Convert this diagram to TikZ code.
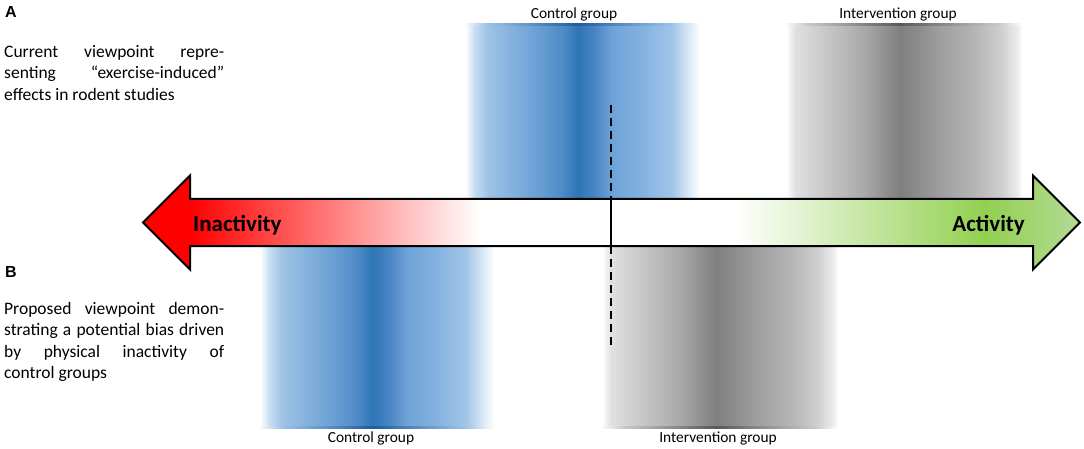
\documentclass[tikz,border=0pt]{standalone}
\usepackage{fontspec}
\setmainfont{Carlito}
\newfontfamily\arialfont{Liberation Sans}
\definecolor{bA}{HTML}{C5DCF0}
\definecolor{bB}{HTML}{9DC3E6}
\definecolor{bC}{HTML}{6A9FD4}
\definecolor{bC2}{HTML}{4F8BC8}
\definecolor{bD}{HTML}{2E75B6}
\definecolor{bE}{HTML}{4A85C4}
\definecolor{bF}{HTML}{6FA3D8}
\definecolor{bG}{HTML}{80B0DE}
\definecolor{bH}{HTML}{A0C5E8}
\definecolor{bEdge}{HTML}{1F5C99}
\definecolor{gA}{HTML}{E0E0E0}
\definecolor{gB}{HTML}{C8C8C8}
\definecolor{gC}{HTML}{A8A8A8}
\definecolor{gC2}{HTML}{8C8C8C}
\definecolor{gD}{HTML}{7F7F7F}
\definecolor{gE}{HTML}{8A8A8A}
\definecolor{gF}{HTML}{A0A0A0}
\definecolor{gG}{HTML}{B5B5B5}
\definecolor{gH}{HTML}{D0D0D0}
\definecolor{gI}{HTML}{EEEEEE}
\definecolor{gEdge}{HTML}{595959}
\definecolor{rA}{HTML}{FF0000}
\definecolor{grA}{HTML}{92D050}
\definecolor{grB}{HTML}{B3DA95}
\pgfdeclarehorizontalshading{blueband}{100bp}{color(0bp)=(white); color(25bp)=(white); color(25.5bp)=(white); color(27.5bp)=(bA); color(30.25bp)=(bB); color(40.8bp)=(bC); color(45.9bp)=(bC2); color(49.25bp)=(bD); color(52.85bp)=(bE); color(56.5bp)=(bF); color(62bp)=(bG); color(69bp)=(bH); color(75bp)=(white); color(100bp)=(white)}
\pgfdeclarehorizontalshading{grayband}{100bp}{color(0bp)=(white); color(25bp)=(white); color(25.5bp)=(white); color(27.3bp)=(gA); color(33.6bp)=(gB); color(42bp)=(gC); color(46.9bp)=(gC2); color(49.4bp)=(gD); color(52.5bp)=(gE); color(58.2bp)=(gF); color(65bp)=(gG); color(70.8bp)=(gH); color(74.2bp)=(gI); color(75bp)=(white); color(100bp)=(white)}
\pgfdeclarehorizontalshading{blueedge}{100bp}{color(0bp)=(white); color(25bp)=(white); color(30bp)=(bB); color(49.25bp)=(bEdge); color(69bp)=(bB); color(75bp)=(white); color(100bp)=(white)}
\pgfdeclarehorizontalshading{grayedge}{100bp}{color(0bp)=(white); color(25bp)=(white); color(30bp)=(gB); color(49.4bp)=(gEdge); color(70bp)=(gB); color(75bp)=(white); color(100bp)=(white)}
\pgfdeclarehorizontalshading{arrowshade}{100bp}{color(0bp)=(rA); color(25bp)=(rA); color(27.5bp)=(rA); color(43bp)=(white); color(56.6bp)=(white); color(69.9bp)=(grA); color(75bp)=(grB); color(100bp)=(grB)}
\tikzset{
  grouplabel/.style={font=\fontsize{15.4}{18}\selectfont, anchor=base, inner sep=0pt},
  para/.style={font=\fontsize{17.5}{21.5}\selectfont, text width=220pt, align=justify, inner sep=0pt, anchor=north west},
  panel/.style={font=\arialfont\fontsize{16}{18}\bfseries, anchor=base west, inner sep=0pt},
  arrowlabel/.style={font=\fontsize{23}{26}\bfseries, inner sep=0pt},
  dashedline/.style={line width=2pt, dash pattern=on 8pt off 5pt},
  shaftline/.style={line width=2pt},
  arrowoutline/.style={draw=black, line width=2pt, line join=miter, shading=arrowshade},
}
\begin{document}
\begin{tikzpicture}[x=1pt,y=-1pt]
\useasboundingbox (0,0) rectangle (1084,449);
% bands
\shade[shading=blueband] (463,24) rectangle (700,199);
\shade[shading=blueedge] (463,24) rectangle (700,25.8);
\shade[shading=grayband] (784,24) rectangle (1022,199);
\shade[shading=grayedge] (784,24) rectangle (1022,25.8);
\shade[shading=blueband] (258,246) rectangle (494,428);
\shade[shading=blueedge] (258,426.2) rectangle (494,428);
\shade[shading=grayband] (600,246) rectangle (838,428);
\shade[shading=grayedge] (600,426.2) rectangle (838,428);
% double arrow
\shadedraw[arrowoutline] (143,222.5) -- (190,175.5) -- (190,199) -- (1033,199) -- (1033,175.5) -- (1080,222.5) -- (1033,269.5) -- (1033,246) -- (190,246) -- (190,269.5) -- cycle;
% divider
\coordinate (dtop) at (611,105);
\coordinate (atop) at (611,199);
\coordinate (abot) at (611,246);
\coordinate (dbot) at (611,345);
\draw[dashedline] (dtop) -- (atop);
\draw[shaftline] (atop) -- (abot);
\draw[dashedline] (abot) -- (dbot);
% labels
\node[arrowlabel, anchor=base west] (inact) at (193,231.5) {Inactivity};
\node[arrowlabel, anchor=base east] (act) at (1025,231.5) {Activity};
\node[grouplabel] (ctop) at (574,19) {Control group};
\node[grouplabel] (itop) at (898,19) {Intervention group};
\node[grouplabel] (cbot) at (371,442) {Control group};
\node[grouplabel] (ibot) at (718,442) {Intervention group};
\node[panel] (pA) at (5,17.5) {A};
\node[panel] (pB) at (5,277.5) {B};
\node[para] (tA) at (4,45) {Current viewpoint repre-\linebreak senting “exercise-induced”\linebreak effects in rodent studies};
\node[para] (tB) at (4,302) {Proposed viewpoint demon-\linebreak strating a potential bias driven\linebreak by physical inactivity of\linebreak control groups};
\end{tikzpicture}
\end{document}
